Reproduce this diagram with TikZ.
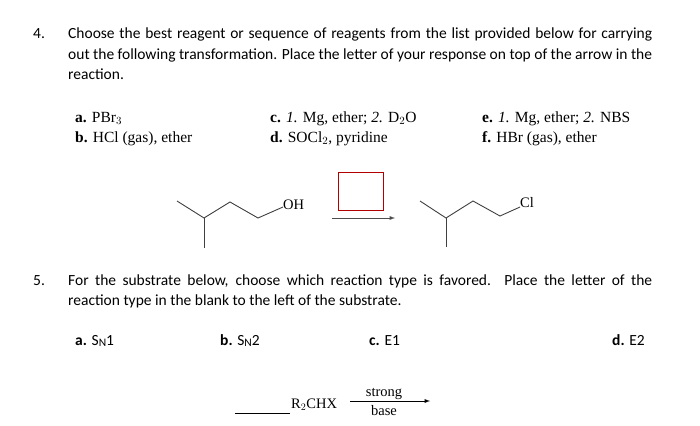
\documentclass[tikz,border=0pt]{standalone}
\usepackage{fontspec}
\setmainfont{Carlito}
\newfontfamily\serif{Liberation Serif}
\newcommand{\myN}{\raisebox{-1pt}{\fontsize{11.5}{12}\selectfont N}}
\newcommand{\jline}[1]{\hbox to 584pt{#1}}
\begin{document}
\begin{tikzpicture}[x=1pt,y=-1pt,
 txt/.style={anchor=base west,inner sep=0pt,font=\fontsize{15.5}{18}\selectfont},
 rg/.style={anchor=base west,inner sep=0pt,font=\serif\fontsize{15.5}{18}\selectfont},
 bond/.style={draw=black!75,line width=0.9pt},
 atom/.style={inner sep=0pt,font=\serif\fontsize{14.5}{16}\selectfont}]
\useasboundingbox (0,0) rectangle (700,425);
\node[txt] (q4) at (33,39) {4.};
\node[txt] (l1) at (68,39) {\jline{Choose the best reagent or sequence of reagents from the list provided below for carrying}};
\node[txt] (l2) at (68,60) {\jline{out the following transformation. Place the letter of your response on top of the arrow in the}};
\node[txt] (l3) at (68,80) {reaction.};
\node[rg] (ra) at (75,122) {\textbf{a.} PBr$_3$};
\node[rg] (rb) at (75,142) {\textbf{b.} HCl (gas), ether};
\node[rg] (rc) at (270,122) {\textbf{c.} \textit{1.} Mg, ether; \textit{2.} D$_2$O};
\node[rg] (rd) at (270,142) {\textbf{d.} SOCl$_2$, pyridine};
\node[rg] (re) at (482,122) {\textbf{e.} \textit{1.} Mg, ether; \textit{2.} NBS};
\node[rg] (rf) at (482,142) {\textbf{f.} HBr (gas), ether};
% molecule 1
\coordinate (a1) at (177,201); \coordinate (a2) at (204,218); \coordinate (a3) at (230,202);
\coordinate (a4) at (258,218); \coordinate (a5) at (283,207); \coordinate (a6) at (204,248);
\draw[bond] (a1)--(a2)--(a3)--(a4)--(a5); \draw[bond] (a2)--(a6);
\node[atom,anchor=west] (oh) at (283,205) {OH};
\node[draw=red!70!black,line width=0.8pt,minimum width=45pt,minimum height=38pt,inner sep=0pt] (box) at (360.5,191) {};
\coordinate (ar1) at (332,218); \coordinate (ar2) at (395,218);
\draw[draw=black!70,line width=0.9pt,-latex] (ar1)--(ar2);
% molecule 2
\coordinate (b1) at (420,201); \coordinate (b2) at (446,218); \coordinate (b3) at (473,201);
\coordinate (b4) at (500,216); \coordinate (b5) at (520,207); \coordinate (b6) at (446,247);
\draw[bond] (b1)--(b2)--(b3)--(b4)--(b5); \draw[bond] (b2)--(b6);
\node[atom,anchor=west] (cl) at (520,203) {Cl};
\node[txt] (q5) at (33,285) {5.};
\node[txt] (m1) at (68,285) {\jline{For the substrate below, choose which reaction type is favored. Place the letter of the}};
\node[txt] (m2) at (68,305) {reaction type in the blank to the left of the substrate.};
\node[txt] (sa) at (75,345) {\textbf{a.} S\myN1};
\node[txt] (sb) at (220,345) {\textbf{b.} S\myN2};
\node[txt] (sc) at (369,345) {\textbf{c.} E1};
\node[txt] (sd) at (612,345) {\textbf{d.} E2};
\coordinate (bl1) at (235,413); \coordinate (bl2) at (290,413);
\draw[line width=0.7pt] (bl1)--(bl2);
\node[rg,font=\serif\fontsize{14.5}{16}\selectfont] (r2) at (291,408) {R$_2$CHX};
\coordinate (c1) at (350,401); \coordinate (c2) at (430,401);
\draw[line width=0.9pt,-latex] (c1)--(c2);
\node[atom,anchor=base] (st) at (384,396) {strong};
\node[atom,anchor=base] (bs) at (384,415) {base};
\end{tikzpicture}
\end{document}
